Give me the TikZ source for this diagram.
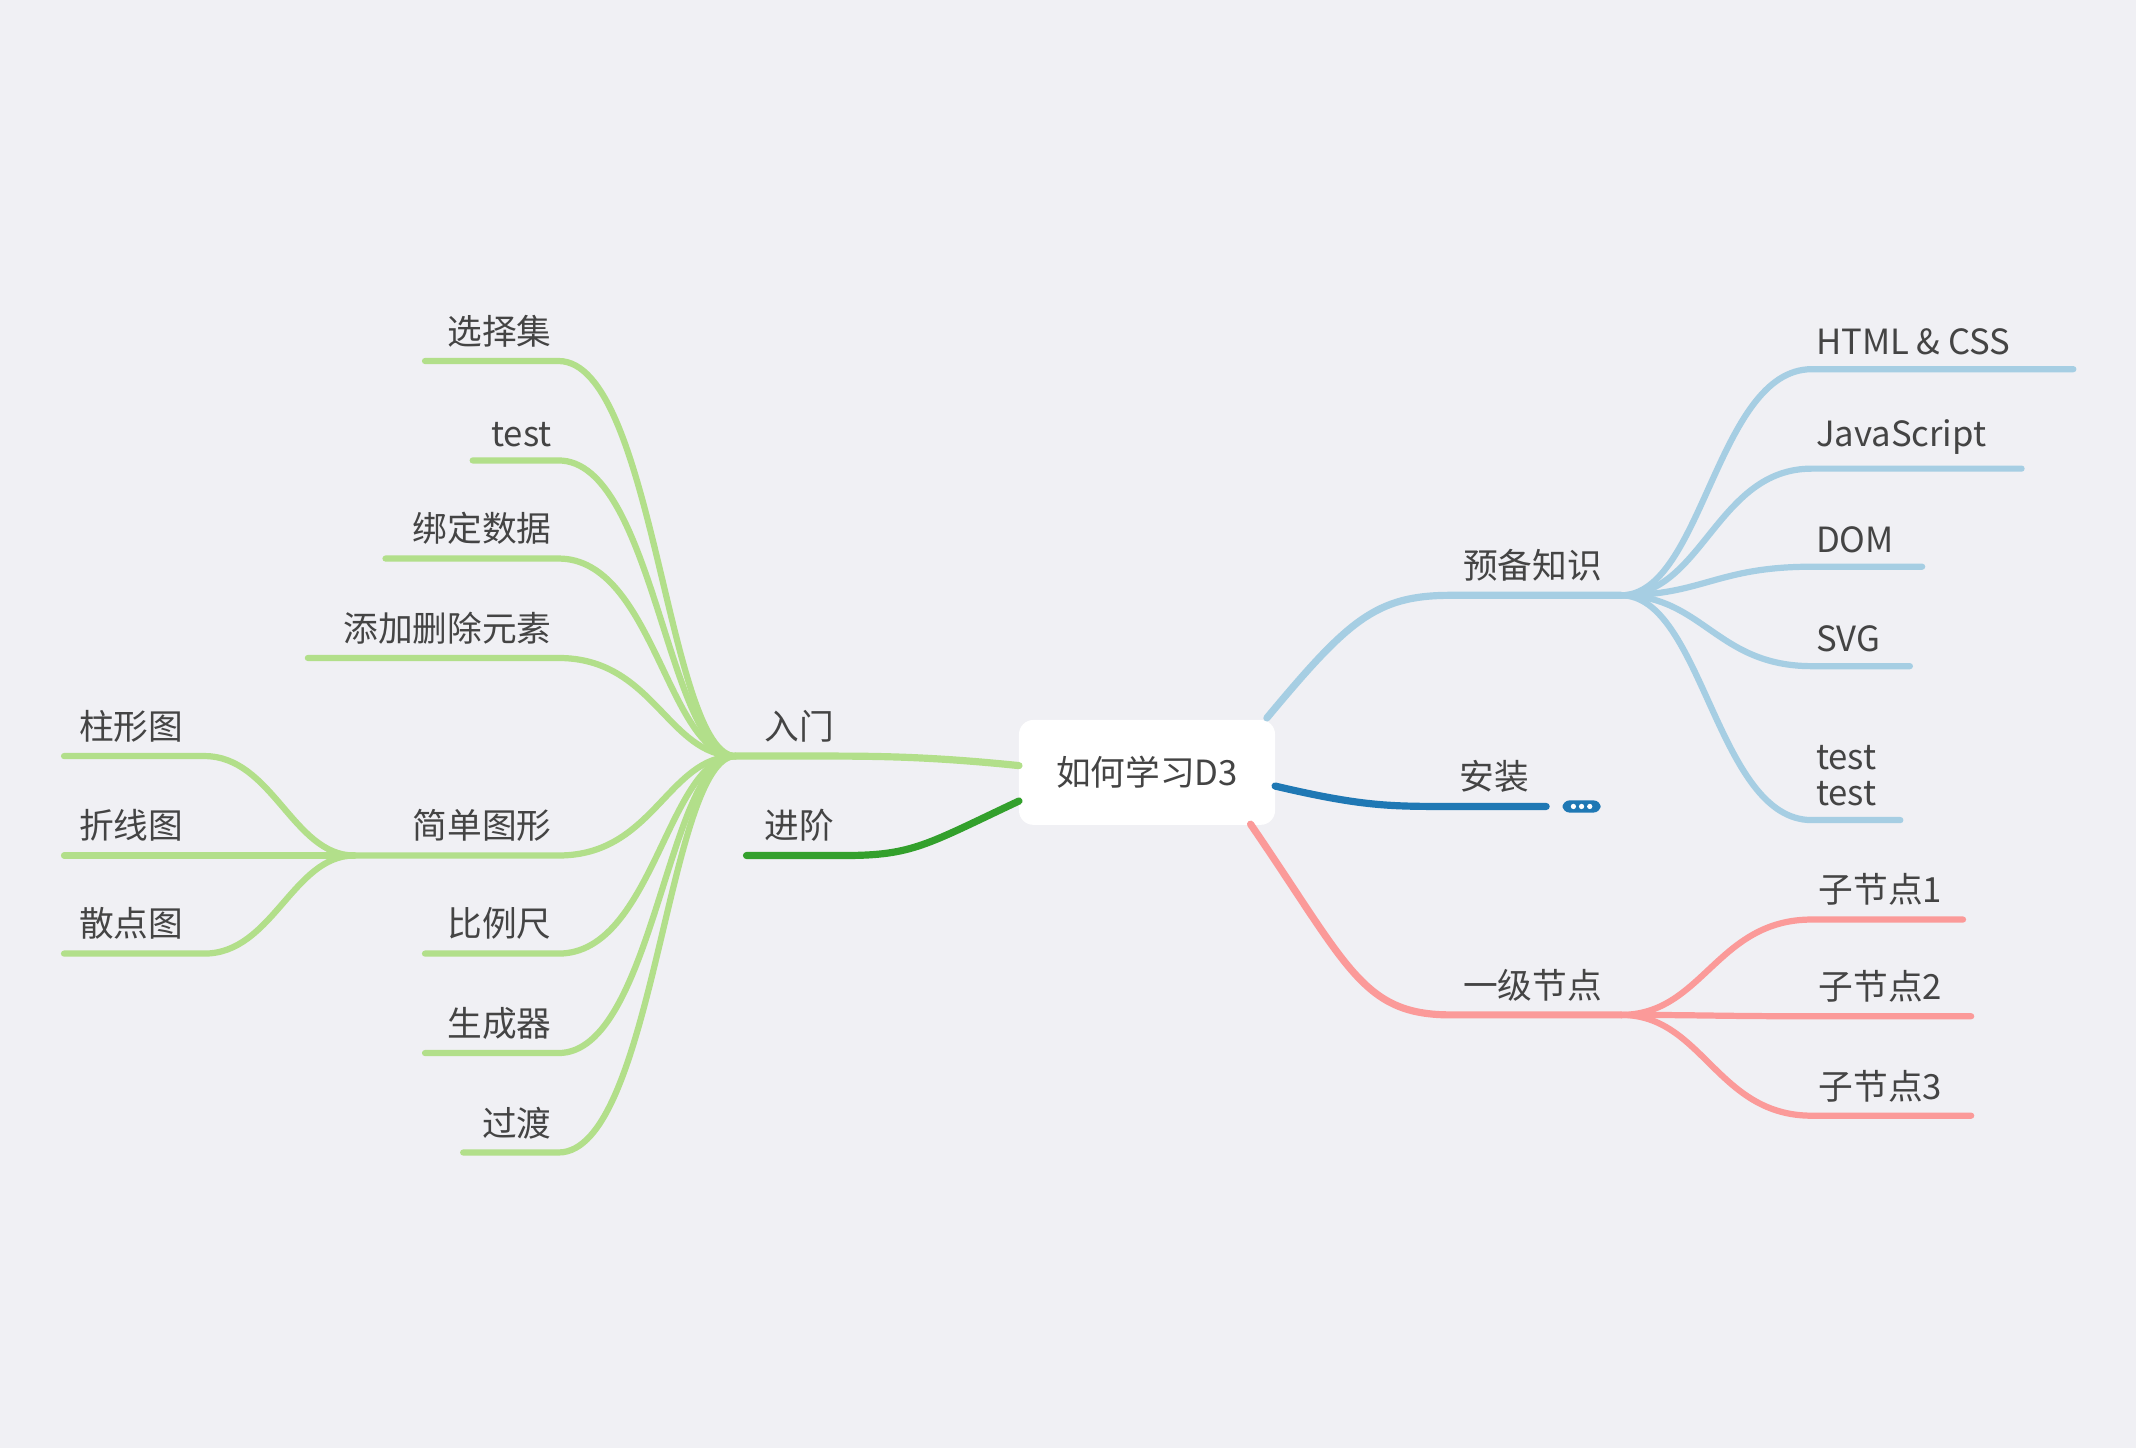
\documentclass[tikz,border=0pt]{standalone}
\usepackage{fontspec}
\setmainfont{Noto Sans CJK SC}
\definecolor{bg}{HTML}{F0F0F4}
\definecolor{lb}{HTML}{A6CEE3}
\definecolor{db}{HTML}{1F78B4}
\definecolor{pk}{HTML}{FB9A99}
\definecolor{lg}{HTML}{B2DF8A}
\definecolor{dg}{HTML}{33A02C}
\definecolor{tx}{HTML}{444444}
\begin{document}
\begin{tikzpicture}[x=0.02cm,y=-0.02cm,
  br/.style={line width=3pt,line cap=round},
  ch/.style={line width=2.6pt,line cap=round},
  lbl/.style={text=tx,font=\fontsize{14.5}{17}\selectfont,inner sep=1pt}]
\fill[bg] (0,0) rectangle (1568,1063);
\useasboundingbox (0,0) rectangle (1568,1063);
% root
\node[fill=white,rounded corners=6pt,minimum width=3.76cm,minimum height=1.54cm,lbl] (root) at (842,567) {如何学习D3};
% ---- right: 预备知识
\coordinate (h1) at (1190,437);
\draw[br,lb] (930,527) .. controls (990,455) and (1010,437) .. (1065,437) -- (h1);
\node[lbl,anchor=south] (n1) at (1125,429) {预备知识};
\foreach \y/\e/\t [count=\i] in {271/1522/HTML \& CSS,344/1484/JavaScript,416/1411/DOM,489/1402/SVG}{
  \coordinate (e\i) at (\e,\y);
  \draw[ch,lb] (h1) .. controls (1250,437) and (1260,\y) .. (1330,\y) -- (e\i);
  \node[lbl,anchor=south west] (t\i) at (1331,\y-8) {\t};
}
\coordinate (e5) at (1395,602);
\draw[ch,lb] (h1) .. controls (1250,437) and (1260,602) .. (1330,602) -- (e5);
\node[lbl,anchor=south west,align=left] (t5) at (1331,594) {test\\[-2pt]test};
% ---- 安装
\coordinate (h2) at (1135,592);
\draw[br,db] (936,577) .. controls (1000,592) and (1020,592) .. (1065,592) -- (h2);
\node[lbl,anchor=south] (n2) at (1097,584) {安装};
\node[fill=db,rounded corners=3pt,minimum width=0.56cm,minimum height=0.18cm,inner sep=0pt] (more) at (1161,592) {};
\foreach \dx in {-6,0,6}\fill[white] ([xshift=\dx*0.02cm]more.center) circle (1.1pt);
% ---- 一级节点
\coordinate (h3) at (1190,745);
\draw[br,pk] (918,605) .. controls (990,710) and (1000,745) .. (1065,745) -- (h3);
\node[lbl,anchor=south] (n3) at (1125,737) {一级节点};
\foreach \y/\e/\t [count=\i] in {675/1441/子节点1,746/1447/子节点2,819/1447/子节点3}{
  \coordinate (p\i) at (\e,\y);
  \draw[ch,pk] (h3) .. controls (1250,745) and (1260,\y) .. (1330,\y) -- (p\i);
  \node[lbl,anchor=south west] (q\i) at (1333,\y-8) {\t};
}
% ---- left: 入门
\coordinate (h4) at (540,555);
\draw[br,lg] (748,562) .. controls (680,555) and (640,555) .. (600,555) -- (h4);
\node[lbl,anchor=south] (n4) at (587,547) {入门};
\foreach \y/\e/\t [count=\i] in {265/312/选择集,338/347/test,410/283/绑定数据,483/226/添加删除元素,700/312/比例尺,773/312/生成器,846/340/过渡}{
  \coordinate (l\i) at (\e,\y);
  \draw[ch,lg] (h4) .. controls (490,555) and (480,\y) .. (410,\y) -- (l\i);
  \node[lbl,anchor=south east] (m\i) at (407,\y-8) {\t};
}
\coordinate (h5) at (260,628);
\draw[ch,lg] (h4) .. controls (490,555) and (480,628) .. (410,628) -- (h5);
\node[lbl,anchor=south east] (n5) at (407,620) {简单图形};
\foreach \y/\t [count=\i] in {555/柱形图,628/折线图,700/散点图}{
  \coordinate (s\i) at (47,\y);
  \draw[ch,lg] (h5) .. controls (215,628) and (200,\y) .. (150,\y) -- (s\i);
  \node[lbl,anchor=south west] (r\i) at (56,\y-8) {\t};
}
% ---- 进阶
\coordinate (h6) at (548,628);
\draw[br,dg] (748,588) .. controls (680,620) and (670,628) .. (620,628) -- (h6);
\node[lbl,anchor=south] (n6) at (587,620) {进阶};
\end{tikzpicture}
\end{document}
